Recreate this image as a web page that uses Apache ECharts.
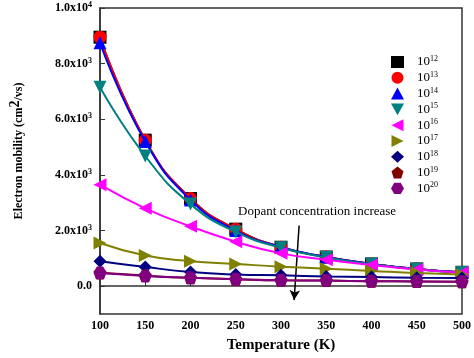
<!DOCTYPE html>
<html><head><meta charset="utf-8">
<script src="https://cdn.jsdelivr.net/npm/echarts@6/dist/echarts.min.js"></script>
<style>html,body{margin:0;padding:0;background:#fff}#c{width:474px;height:358px}</style>
</head><body><div id="c"></div>
<script>
const temps = [100,150,200,250,300,350,400,450,500];
const seriesNames = ['12','13','14','15','16','17','18','19','20'];
const s12 = [8950,5250,3150,2050,1400,1050,800,620,500];
const s13 = [8950,5250,3150,2050,1400,1050,800,620,500];
const s14 = [8750,5200,3100,2000,1400,1050,800,620,500];
const s15 = [7150,4680,2950,1950,1380,1030,790,610,490];
const s16 = [3650,2800,2150,1600,1180,950,760,600,480];
const s17 = [1550,1100,900,800,700,630,550,470,420];
const s18 = [900,690,510,420,390,350,330,300,290];
const s19 = [480,380,300,250,210,200,180,170,160];
const s20 = [470,370,300,250,210,200,180,170,160];
const yTicks = [0,2000,4000,6000,8000,10000];
const xTicks = [100,150,200,250,300,350,400,450,500];

const allData = [s12,s13,s14,s15,s16,s17,s18,s19,s20];
const colors = ['#000000','#ff0000','#0000ff','#008080','#ff00ff','#808000','#000080','#800000','#800080'];
const symbols = ['rect','circle','triangle',
 'path://M0,0 L10,0 L5,9 Z',
 'path://M10,0 L10,10 L0,5 Z',
 'path://M0,0 L0,10 L10,5 Z',
 'diamond',
 'path://M5,0 L10,3.8 L8.1,10 L1.9,10 L0,3.8 Z',
 'path://M2.5,0 L7.5,0 L10,4.33 L7.5,8.66 L2.5,8.66 L0,4.33 Z'];
const font = 'Liberation Serif';

const series = allData.map((d,i)=>({
  name: seriesNames[i], type:'line', smooth:true,
  data: temps.map((t,j)=>[t,d[j]]),
  symbol: symbols[i], symbolSize: 13,
  lineStyle:{color:colors[i], width:2},
  itemStyle:{color:colors[i]},
  z: 2+i
}));
series[0].markLine = {
  silent:true, symbol:['none','arrow'], symbolSize:[8,10],
  lineStyle:{color:'#000', width:1.5, type:'solid'}, label:{show:false},
  data:[[{coord:[320,2180]},{coord:[314.5,-500]}]]
};

const chart = echarts.init(document.getElementById('c'));
chart.setOption({
  animation:false,
  grid:{left:92,right:11,top:8,bottom:38,show:true,borderColor:'#333',borderWidth:1.5},
  xAxis:{type:'value',min:100,max:500,interval:50,
    name:'Temperature (K)',nameLocation:'middle',nameGap:24,
    nameTextStyle:{fontFamily:font,fontWeight:'bold',fontSize:15,color:'#000'},
    axisLine:{lineStyle:{color:'#333',width:1.5}},
    axisTick:{inside:true,length:5,lineStyle:{color:'#333'}},
    axisLabel:{fontFamily:font,fontWeight:'bold',fontSize:12,color:'#000',margin:6},
    splitLine:{show:false}},
  yAxis:{type:'value',min:-1000,max:10000,
    name:'{a|Electron mobility (cm}{s|2}{a|/vs)}',nameLocation:'middle',nameGap:70,
    nameTextStyle:{padding:[0,0,0,20],
      rich:{a:{fontFamily:font,fontWeight:'bold',fontSize:12,color:'#000'},
            s:{fontFamily:font,fontWeight:'bold',fontSize:14,color:'#000',verticalAlign:'bottom',padding:[0,0,8,0]}}},
    axisLine:{lineStyle:{color:'#333',width:1.5}},
    axisTick:{inside:true,length:5,customValues:yTicks,lineStyle:{color:'#333'}},
    axisLabel:{customValues:yTicks,margin:8,
      formatter:v=>{ if(v===0) return '{m|0.0}'; const e=Math.floor(Math.log10(v)); const m=(v/Math.pow(10,e)).toFixed(1); return '{m|'+m+'x10}{s|'+e+'}'; },
      rich:{m:{fontFamily:font,fontWeight:'bold',fontSize:12,color:'#000'},
            s:{fontFamily:font,fontWeight:'bold',fontSize:8,color:'#000',verticalAlign:'bottom',padding:[0,0,6,0]}}},
    splitLine:{show:false}},
  legend:{orient:'vertical',left:391,top:55,itemGap:2.3,itemWidth:13,itemHeight:12,padding:0,
    data: seriesNames.map((n,i)=>({name:n,icon:symbols[i]})),
    formatter:n=>'{b|10}{s|'+n+'}',
    textStyle:{rich:{b:{fontFamily:font,fontSize:13,color:'#000',padding:[0,0,0,8]},
                     s:{fontFamily:font,fontSize:8,color:'#000',verticalAlign:'bottom',padding:[0,0,6,0]}}}},
  graphic:[{type:'text',left:238,top:205,style:{text:'Dopant concentration increase',fontFamily:font,fontSize:13,fill:'#000'}}],
  series
});
</script></body></html>
